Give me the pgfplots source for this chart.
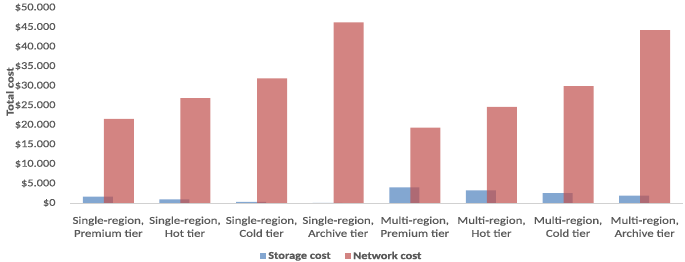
\documentclass[border=0pt]{standalone}
\usepackage{pgfplots}
\pgfplotsset{compat=1.18}
\usepackage{fontspec}
\setmainfont{Carlito}[FakeStretch=1.18,FakeBold=0.4]
\newfontfamily\xfont{Carlito}[FakeStretch=1.22,FakeBold=0.4]
\definecolor{txt}{HTML}{595959}
\definecolor{sblue}{HTML}{4F81BD}
\definecolor{sred}{HTML}{C0504D}
\begin{document}
\begin{tikzpicture}
\begin{axis}[
  at={(70bp,59bp)}, anchor=south west,
  scale only axis, width=613bp, height=195.5bp,
  xmin=-0.5, xmax=7.5, ymin=0, ymax=50000,
  scaled y ticks=false,
  axis lines*=left, separate axis lines,
  y axis line style={draw=none},
  x axis line style={draw=black!18, line width=0.8pt},
  major tick length=0pt,
  xtick={0,...,7},
  xticklabels={{Single-region,\\Premium tier},{Single-region,\\Hot tier},{Single-region,\\Cold tier},{Single-region,\\Archive tier},{Multi-region,\\Premium tier},{Multi-region,\\Hot tier},{Multi-region,\\Cold tier},{Multi-region,\\Archive tier}},
  ytick={0,5000,...,50000},
  yticklabels={\$0,\$5.000,\$10.000,\$15.000,\$20.000,\$25.000,\$30.000,\$35.000,\$40.000,\$45.000,\$50.000},
  tick label style={text=txt},
  x tick label style={font=\xfont\fontsize{10.6}{13}\selectfont, align=center, yshift=-10bp},
  y tick label style={font=\fontsize{10.5}{12}\selectfont, xshift=-11bp},
  ylabel={\textbf{Total cost}},
  every axis y label/.style={at={(axis description cs:-0.098,0.57)}, rotate=90, anchor=center, font=\fontsize{10.5}{12}\selectfont, text=txt},
  bar width=30bp,
  legend columns=2,
  legend style={draw=none, at={(axis description cs:0.443,-0.272)}, anchor=center, font=\fontsize{10.5}{12}\selectfont\bfseries, text=txt, /tikz/every even column/.append style={column sep=12bp}},
  legend image code/.code={\fill[#1] (0bp,-3.2bp) rectangle (6.5bp,3.2bp);},
]
\addplot[ybar, bar shift=-10.5bp, fill=sblue, fill opacity=0.7, draw=none] coordinates {
(0,1600) (1,900) (2,300) (3,60) (4,4000) (5,3200) (6,2500) (7,1900)};
\addlegendentry{Storage cost}
\addplot[ybar, bar shift=10.5bp, fill=sred, fill opacity=0.7, draw=none] coordinates {
(0,21500) (1,26800) (2,31900) (3,46200) (4,19300) (5,24600) (6,29900) (7,44200)};
\addlegendentry{Network cost}
\end{axis}
\pgfresetboundingbox
\path[use as bounding box] (0,0) rectangle (685bp,262bp);
\end{tikzpicture}
\end{document}
